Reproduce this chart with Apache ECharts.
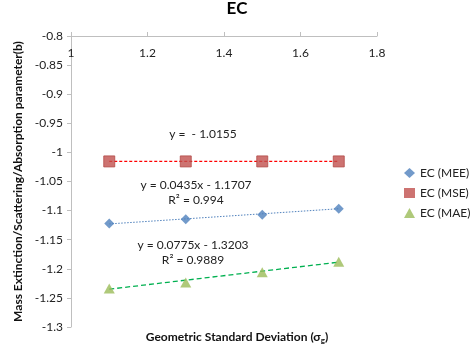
<!DOCTYPE html>
<html><head><meta charset="utf-8">
<script src="https://cdn.jsdelivr.net/npm/echarts@6/dist/echarts.min.js"></script>
<style>html,body{margin:0;padding:0;background:#fff}#c{width:474px;height:349px}</style>
</head><body><div id="c"></div>
<script>
var xValues = [1.1, 1.3, 1.5, 1.7];
var meeValues = [-1.122, -1.115, -1.107, -1.097];
var mseValues = [-1.0155, -1.0155, -1.0155, -1.0155];
var maeValues = [-1.234, -1.2236, -1.206, -1.188];
var trendX = [1.1, 1.7];
var meeTrend = [-1.1229, -1.0968];
var mseTrend = [-1.0155, -1.0155];
var maeTrend = [-1.235, -1.1886];
var seriesNames = ['EC (MEE)', 'EC (MSE)', 'EC (MAE)'];
var xTicks = [1, 1.2, 1.4, 1.6, 1.8];
var yTicks = [-0.8, -0.85, -0.9, -0.95, -1, -1.05, -1.1, -1.15, -1.2, -1.25, -1.3];

function pairs(xs, ys){ return xs.map(function(x,i){ return [x, ys[i]]; }); }
var F = 'Lato, "Open Sans", sans-serif';
var chart = echarts.init(document.getElementById('c'));
chart.setOption({
  animation: false,
  backgroundColor: '#fff',
  textStyle: {fontFamily: F},
  title: {text: 'EC', left: 'center', top: 0, padding: 0, textStyle: {fontSize: 17, fontWeight: 'bold', color: '#000', fontFamily: F}},
  grid: {left: 71, right: 97, top: 36, bottom: 22},
  legend: {
    orient: 'vertical', left: 399, top: 162, itemGap: 8, itemWidth: 11, itemHeight: 10,
    data: seriesNames.map(function(n,i){ return {name: n, icon: ['diamond','rect','triangle'][i]}; }),
    itemStyle: {borderWidth: 0},
    textStyle: {fontSize: 12, color: '#222', fontFamily: F}
  },
  xAxis: {
    type: 'value', position: 'top', min: xTicks[0], max: xTicks[xTicks.length-1], interval: 0.2,
    axisLine: {show: true, lineStyle: {color: '#bfbfbf'}},
    axisTick: {show: true, inside: false, length: 4, lineStyle: {color: '#bfbfbf'}},
    axisLabel: {inside: true, margin: 11, fontSize: 12, color: '#222', fontFamily: F,
      formatter: function(v){ return String(+v.toFixed(2)); }},
    splitLine: {show: false}
  },
  yAxis: {
    type: 'value', min: yTicks[yTicks.length-1], max: yTicks[0], interval: 0.05,
    name: 'Mass Extinction/Scattering/Absorption parameter(b)', nameLocation: 'middle', nameGap: 45,
    nameTextStyle: {fontSize: 12, fontWeight: 'bold', color: '#111', fontFamily: F},
    axisLine: {show: true, lineStyle: {color: '#bfbfbf'}},
    axisTick: {show: true, length: 4, lineStyle: {color: '#bfbfbf'}},
    axisLabel: {fontSize: 12, color: '#222', margin: 8, fontFamily: F,
      formatter: function(v){ return String(+v.toFixed(2)); }},
    splitLine: {show: false}
  },
  series: [
    {name: 'trendMEE', type: 'line', data: pairs(trendX, meeTrend), symbol: 'none', silent: true,
      lineStyle: {color: '#4F81BD', width: 1, type: [1.5, 1.5]}, z: 1},
    {name: 'trendMSE', type: 'line', data: pairs(trendX, mseTrend), symbol: 'none', silent: true,
      lineStyle: {color: '#FF0000', width: 1.3, type: [3, 2]}, z: 1},
    {name: 'trendMAE', type: 'line', data: pairs(trendX, maeTrend), symbol: 'none', silent: true,
      lineStyle: {color: '#00B050', width: 1.3, type: [5, 3]}, z: 1},
    {name: seriesNames[0], type: 'scatter', data: pairs(xValues, meeValues), symbol: 'diamond', symbolSize: [10, 10],
      itemStyle: {color: '#4F81BD'}, z: 3},
    {name: seriesNames[1], type: 'scatter', data: pairs(xValues, mseValues), symbol: 'rect', symbolSize: 11,
      itemStyle: {color: '#C0504D', borderColor: '#B34A47', borderWidth: 1}, z: 3},
    {name: seriesNames[2], type: 'scatter', data: pairs(xValues, maeValues), symbol: 'triangle', symbolSize: [11, 10],
      itemStyle: {color: '#9BBB59'}, z: 3}
  ],
  graphic: [
    {type: 'text', left: 'center', top: 331, style: {
      text: '{b|Geometric Standard Deviation (σ}{s|g}{b|)}',
      rich: {b: {fontSize: 12, fontWeight: 'bold', fill: '#111', fontFamily: F},
             s: {fontSize: 8, fontWeight: 'bold', fill: '#111', fontFamily: F, verticalAlign: 'bottom', padding: [6,0,0,0]}}}, x: -17},
    {type: 'text', x: 203, y: 134, style: {text: 'y =  - 1.0155', fontSize: 12, fill: '#222', fontFamily: F, align: 'center', verticalAlign: 'middle'}},
    {type: 'text', x: 196, y: 185, style: {text: 'y = 0.0435x - 1.1707', fontSize: 12, fill: '#222', fontFamily: F, align: 'center', verticalAlign: 'middle'}},
    {type: 'text', x: 196, y: 200, style: {text: 'R² = 0.994', fontSize: 12, fill: '#222', fontFamily: F, align: 'center', verticalAlign: 'middle'}},
    {type: 'text', x: 193, y: 245, style: {text: 'y = 0.0775x - 1.3203', fontSize: 12, fill: '#222', fontFamily: F, align: 'center', verticalAlign: 'middle'}},
    {type: 'text', x: 193, y: 260, style: {text: 'R² = 0.9889', fontSize: 12, fill: '#222', fontFamily: F, align: 'center', verticalAlign: 'middle'}}
  ]
});
</script></body></html>
